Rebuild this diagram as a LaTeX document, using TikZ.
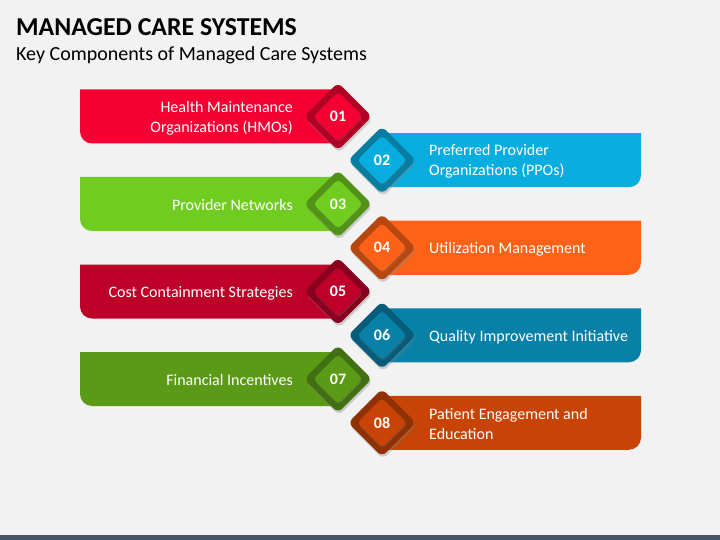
\documentclass[tikz,border=0pt]{standalone}
\usepackage{fontspec}
\setmainfont{Carlito}
\usepackage{tikz}
\usetikzlibrary{shadows}
\definecolor{paper}{HTML}{F2F2F2}
\definecolor{footer}{HTML}{44546A}
\definecolor{hmoRed}{HTML}{F40032}
\definecolor{ppoBlue}{HTML}{08ADE0}
\definecolor{netGreen}{HTML}{70CC1E}
\definecolor{umOrange}{HTML}{FD6218}
\definecolor{costRed}{HTML}{BE0029}
\definecolor{qiBlue}{HTML}{0880A8}
\definecolor{finGreen}{HTML}{5A9A17}
\definecolor{edOrange}{HTML}{C84406}

\begin{document}
\begin{tikzpicture}[x=1pt,y=-1pt,
    badge/.style={rectangle,rotate=45,rounded corners=6pt,minimum size=48pt,inner sep=0pt,
      drop shadow={opacity=0.35,shadow xshift=1pt,shadow yshift=-2.5pt}},
    core/.style={rectangle,rotate=45,rounded corners=4pt,minimum size=35pt,inner sep=0pt,
      drop shadow={opacity=0.3,shadow xshift=0.5pt,shadow yshift=-1.5pt}},
    num/.style={text=white,font=\bfseries\fontsize{16}{16}\selectfont},
    lbl/.style={text=white,inner sep=0pt,font=\fontsize{16}{20}\selectfont}]
  \useasboundingbox (0,0) rectangle (720,540);
  \fill[paper] (0,0) rectangle (720,540);
  \fill[footer] (0,535) rectangle (720,540);
  \node[anchor=base west,inner sep=0pt,font=\bfseries\fontsize{25.8}{25.8}\selectfont] (title) at (16,36) {MANAGED CARE SYSTEMS};
  \node[anchor=base west,inner sep=0pt,font=\fontsize{20}{20}\selectfont] (subtitle) at (16,61) {Key Components of Managed Care Systems};
  \foreach \k/\col/\txt in {1/hmoRed/{Health Maintenance\\Organizations (HMOs)},
      3/netGreen/{Provider Networks},
      5/costRed/{Cost Containment Strategies},
      7/finGreen/{Financial Incentives}} {
    \pgfmathsetmacro\yc{116.5+43.75*(\k-1)}
    \fill[\col] (338,\yc-27) -- (80,\yc-27) -- (80,\yc+15)
      .. controls (80,\yc+21.6) and (85.4,\yc+27) .. (92,\yc+27) -- (338,\yc+27) -- cycle;
    \node[lbl,anchor=east,align=right] (t\k) at (293,\yc+1.5) {\txt};
    \node[badge,fill=\col!72!black] (d\k) at (338,\yc) {};
    \node[core,fill=\col] (c\k) at (d\k) {};
    \node[num] (n\k) at (d\k) {0\k};
  }
  \foreach \k/\col/\txt in {2/ppoBlue/{Preferred Provider\\Organizations (PPOs)},
      4/umOrange/{Utilization Management},
      6/qiBlue/{Quality Improvement Initiative},
      8/edOrange/{Patient Engagement and\\Education}} {
    \pgfmathsetmacro\yc{116.5+43.75*(\k-1)}
    \fill[\col] (382,\yc-27) -- (641,\yc-27) -- (641,\yc+15)
      .. controls (641,\yc+21.6) and (635.6,\yc+27) .. (629,\yc+27) -- (382,\yc+27) -- cycle;
    \node[lbl,anchor=west,align=left] (t\k) at (429,\yc+1.5) {\txt};
    \node[badge,fill=\col!72!black] (d\k) at (382,\yc) {};
    \node[core,fill=\col] (c\k) at (d\k) {};
    \node[num] (n\k) at (d\k) {0\k};
  }
\end{tikzpicture}
\end{document}
